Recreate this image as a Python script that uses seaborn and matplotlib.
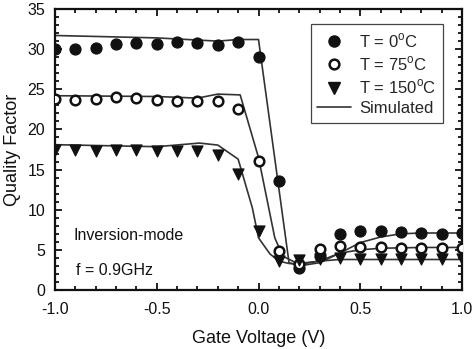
import numpy as np
import pandas as pd
import matplotlib
matplotlib.use("Agg")
import matplotlib.pyplot as plt
from matplotlib.lines import Line2D
from matplotlib.ticker import MultipleLocator, FormatStrFormatter
import seaborn as sns

# Measured gate-voltage sweep
vg = [-1.0, -0.9, -0.8, -0.7, -0.6, -0.5, -0.4, -0.3, -0.2, -0.1, 0.0,
      0.1, 0.2, 0.3, 0.4, 0.5, 0.6, 0.7, 0.8, 0.9, 1.0]
q_0c = [30.0, 30.0, 30.1, 30.6, 30.8, 30.6, 30.9, 30.8, 30.5, 30.9, 29.0,
        13.6, 2.7, 4.2, 7.0, 7.3, 7.3, 7.2, 7.1, 7.0, 7.1]
q_75c = [23.8, 23.7, 23.8, 24.0, 23.9, 23.7, 23.5, 23.5, 23.5, 22.6, 16.1,
         4.8, 3.3, 5.1, 5.5, 5.4, 5.3, 5.2, 5.2, 5.2, 5.2]
q_150c = [17.5, 17.4, 17.3, 17.4, 17.4, 17.3, 17.3, 17.3, 16.8, 14.4, 7.3,
          3.6, 3.7, 3.8, 4.0, 3.9, 3.8, 3.8, 3.8, 3.8, 3.8]

# Simulated curves
sim0_v = [-1.0, -0.5, -0.2, -0.1, 0.0, 0.15, 0.2, 0.3, 0.4, 0.5, 0.6, 0.7, 0.8, 1.0]
sim0_q = [31.7, 31.4, 31.0, 31.2, 31.2, 3.4, 3.0, 3.4, 4.6, 5.9, 6.6, 7.0, 7.1, 7.1]
sim75_v = [-1.0, -0.5, -0.3, -0.2, -0.09, 0.0, 0.08, 0.12, 0.2, 0.3, 0.4, 0.5, 0.6, 0.8, 1.0]
sim75_q = [24.2, 24.1, 23.9, 24.4, 24.3, 16.5, 6.5, 4.2, 3.2, 3.6, 4.6, 5.0, 5.2, 5.3, 5.3]
sim150_v = [-1.0, -0.5, -0.29, -0.2, -0.1, -0.03, 0.0, 0.056, 0.1, 0.15, 0.2, 0.3, 0.4, 0.6, 1.0]
sim150_q = [18.1, 17.85, 18.3, 18.05, 16.3, 10.2, 6.5, 4.5, 3.6, 3.3, 3.3, 3.6, 3.8, 3.8, 3.8]

legend_labels = ["T = 0$^{\\mathrm{o}}$C", "T = 75$^{\\mathrm{o}}$C",
                 "T = 150$^{\\mathrm{o}}$C", "Simulated"]

sns.set_style("ticks")
plt.rcParams["font.family"] = ["Liberation Sans", "DejaVu Sans"]
plt.rcParams["mathtext.fontset"] = "custom"
plt.rcParams["mathtext.rm"] = "Liberation Sans"
plt.rcParams["axes.unicode_minus"] = False

fig = plt.figure(figsize=(4.74, 3.49), dpi=100)
ax = fig.add_axes([55 / 474, 1 - 290 / 349, 407 / 474, 281 / 349])

ink = "#111111"
line_col = "#333333"

for sv, sq in [(sim0_v, sim0_q), (sim75_v, sim75_q), (sim150_v, sim150_q)]:
    sns.lineplot(x=sv, y=sq, ax=ax, color=line_col, linewidth=1.2, sort=False,
                 estimator=None)

ms = 64
sns.scatterplot(x=vg, y=q_0c, ax=ax, marker="o", s=ms, color=ink,
                edgecolor=ink, linewidth=0.8, zorder=3)
sns.scatterplot(x=vg, y=q_75c, ax=ax, marker="o", s=ms * 0.75, color="white",
                edgecolor=ink, linewidth=1.8, zorder=3)
sns.scatterplot(x=vg, y=q_150c, ax=ax, marker="v", s=ms, color=ink,
                edgecolor=ink, linewidth=0.8, zorder=3)

ax.set_xlim(-1.0, 1.0)
ax.set_ylim(0, 35)
ax.xaxis.set_major_locator(MultipleLocator(0.5))
ax.xaxis.set_minor_locator(MultipleLocator(0.1))
ax.xaxis.set_major_formatter(FormatStrFormatter("%.1f"))
ax.yaxis.set_major_locator(MultipleLocator(5))
ax.yaxis.set_minor_locator(MultipleLocator(1))

for sp in ax.spines.values():
    sp.set_visible(True)
    sp.set_linewidth(1.6)
    sp.set_color(ink)

ax.tick_params(which="both", direction="in", top=True, right=True,
               color=ink, width=1.3)
ax.tick_params(which="major", length=5, labelsize=11.5, labelcolor=ink)
ax.tick_params(axis="x", which="major", pad=9)
ax.tick_params(axis="y", which="major", pad=7)
ax.tick_params(which="minor", length=3)

ax.set_xlabel("Gate Voltage (V)", fontsize=13, color=ink, labelpad=9)
ax.set_ylabel("Quality Factor", fontsize=13, color=ink, labelpad=5)

ax.text(-0.91, 6.8, "Inversion-mode", fontsize=11.5, color=ink, va="center")
ax.text(-0.895, 2.4, "f = 0.9GHz", fontsize=11.5, color=ink, va="center")

handles = [
    Line2D([], [], linestyle="none", marker="o", markersize=8,
           markerfacecolor=ink, markeredgecolor=ink),
    Line2D([], [], linestyle="none", marker="o", markersize=7,
           markerfacecolor="white", markeredgecolor=ink, markeredgewidth=1.8),
    Line2D([], [], linestyle="none", marker="v", markersize=8,
           markerfacecolor=ink, markeredgecolor=ink),
    Line2D([], [], color=line_col, linewidth=1.2),
]
leg = ax.legend(handles, legend_labels, loc="upper right",
                bbox_to_anchor=(0.953, 0.945), fontsize=12, frameon=True,
                fancybox=False, edgecolor="#444444", framealpha=1,
                handlelength=2.0, handletextpad=0.5, labelspacing=0.28,
                borderpad=0.4, borderaxespad=0)
leg.get_frame().set_linewidth(0.9)

fig.savefig("out.png", dpi=100)
